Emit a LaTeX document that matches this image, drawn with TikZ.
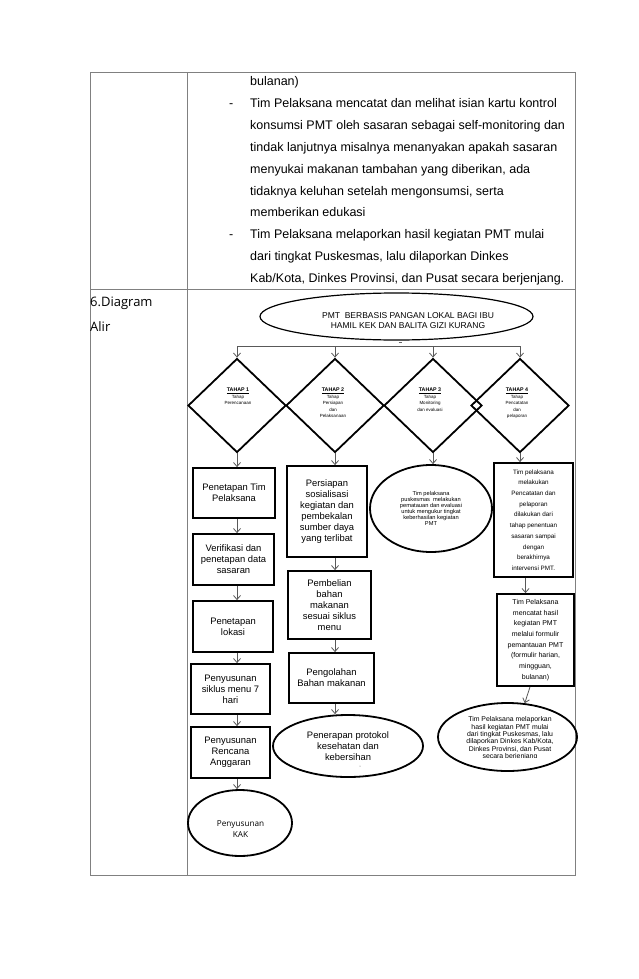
\documentclass[tikz,border=0pt]{standalone}
\usepackage{fontspec}
\setmainfont{Liberation Sans}
\newfontfamily\osans{Open Sans}
\usetikzlibrary{shapes.geometric,arrows.meta}
\begin{document}
\begin{tikzpicture}[x=1pt,y=-1pt,
  tline/.style={draw=black!50, line width=1pt},
  body/.style={font=\fontsize{12.5}{21.9}\selectfont, anchor=base west, inner sep=0pt},
  box/.style={draw=black, line width=1.8pt, rectangle, inner sep=0pt, align=center, font=\fontsize{9.4}{11}\selectfont},
  oval/.style={draw=black, line width=1.8pt, ellipse, inner sep=0pt, align=center},
  dia/.style={draw=black, line width=1.8pt, diamond, inner sep=0pt, aspect=1},
  arr/.style={draw=black!65, line width=0.8pt, -{Straight Barb[length=4pt,width=7pt]}},
  conn/.style={draw=black!65, line width=0.8pt},
  lbl/.style={inner sep=0pt, align=center},
  dtxt/.style={lbl, anchor=north, font=\fontsize{4.5}{6.5}\selectfont},
]
\useasboundingbox (0,0) rectangle (638,979);
\fill[white] (0,0) rectangle (638,979);

% table
\draw[tline] (90,73) rectangle (575,875);
\draw[tline] (90,289) -- (575,289);
\draw[tline] (187,73) -- (187,875);

% top-right text
\node[body] (t1) at (250,85.5) {bulanan)};
\node[body] (s1) at (229,107.4) {-};
\node[body] (t2) at (250,107.4) {Tim Pelaksana mencatat dan melihat isian kartu kontrol};
\node[body] (t3) at (250,129.3) {konsumsi PMT oleh sasaran sebagai self-monitoring dan};
\node[body] (t4) at (250,151.2) {tindak lanjutnya misalnya menanyakan apakah sasaran};
\node[body] (t5) at (250,173.1) {menyukai makanan tambahan yang diberikan, ada};
\node[body] (t6) at (250,195.0) {tidaknya keluhan setelah mengonsumsi, serta};
\node[body] (t7) at (250,216.9) {memberikan edukasi};
\node[body] (s2) at (229,238.8) {-};
\node[body] (t8) at (250,238.8) {Tim Pelaksana melaporkan hasil kegiatan PMT mulai};
\node[body] (t9) at (250,260.7) {dari tingkat Puskesmas, lalu dilaporkan Dinkes};
\node[body] (t10) at (250,282.6) {Kab/Kota, Dinkes Provinsi, dan Pusat secara berjenjang.};

% left column
\node[font=\osans\fontsize{13}{13}\selectfont, anchor=base west, inner sep=0pt] (lc1) at (90,306) {6.Diagram};
\node[font=\osans\fontsize{13}{13}\selectfont, anchor=base west, inner sep=0pt] (lc2) at (90,331) {Alir};

% title
\node[oval, line width=1.2pt, minimum width=273pt, minimum height=47pt] (title) at (396.5,316.5) {};
\node[lbl, font=\fontsize{8.5}{9.5}\selectfont] (titlet) at (408,320.5) {PMT\ \ BERBASIS PANGAN LOKAL BAGI IBU\\HAMIL KEK DAN BALITA GIZI KURANG};
\draw[black!60, line width=0.7pt] (398.5,342.8) -- (401.5,342.8);

% diamonds
\node[dia, minimum width=98pt, minimum height=94pt] (d1) at (237,405.5) {};
\node[dia, minimum width=98pt, minimum height=94pt] (d2) at (335,405.5) {};
\node[dia, minimum width=98pt, minimum height=94pt] (d3) at (433,405.5) {};
\node[dia, minimum width=98pt, minimum height=94pt] (d4) at (520,405.5) {};
\node[dtxt] (d1t) at (238,388) {{\fontsize{5.3}{6.5}\selectfont\textbf{\underline{TAHAP 1}}}\\Tahap\\Perencanaan};
\node[dtxt] (d2t) at (333,388) {{\fontsize{5.3}{6.5}\selectfont\textbf{\underline{TAHAP 2}}}\\Tahap\\Persiapan\\dan\\Pelaksanaan};
\node[dtxt] (d3t) at (430,388) {{\fontsize{5.3}{6.5}\selectfont\textbf{\underline{TAHAP 3}}}\\Tahap\\Monitoring\\dan evaluasi};
\node[dtxt] (d4t) at (517,388) {{\fontsize{5.3}{6.5}\selectfont\textbf{\underline{TAHAP 4}}}\\Tahap\\Pencatatan\\dan\\pelaporan};

% bus
\coordinate (bus) at (0,346);
\draw[conn] (d1.north |- bus) -- (d4.north |- bus);
\draw[arr] (d1.north |- bus) -- (d1.north);
\draw[arr] (d2.north |- bus) -- (d2.north);
\draw[arr] (d3.north |- bus) -- (d3.north);
\draw[arr] (d4.north |- bus) -- (d4.north);

% column 1
\node[box, minimum width=82pt, minimum height=50pt] (b1) at (234,493) {Penetapan Tim\\Pelaksana};
\node[box, minimum width=81pt, minimum height=51pt] (b2) at (233.5,559.5) {Verifikasi dan\\penetapan data\\sasaran};
\node[box, minimum width=80pt, minimum height=51pt] (b3) at (233,626.5) {Penetapan\\lokasi};
\node[box, minimum width=79pt, minimum height=50pt] (b4) at (230.5,689) {Penyusunan\\siklus menu 7\\hari};
\node[box, minimum width=79pt, minimum height=51pt] (b5) at (230.5,752.5) {Penyusunan\\Rencana\\Anggaran};
\node[oval, minimum width=104pt, minimum height=66pt] (b6) at (240,823) {};
\node[lbl, font=\osans\fontsize{8.2}{11}\selectfont] (b6t) at (240.5,829.5) {Penyusunan\\KAK};
\draw[arr] (d1.south) -- (d1.south |- b1.north);
\draw[arr] (b1.south -| d1.south) -- (b2.north -| d1.south);
\draw[arr] (b2.south -| d1.south) -- (b3.north -| d1.south);
\draw[arr] (b3.south -| d1.south) -- (b4.north -| d1.south);
\draw[arr] (b4.south -| d1.south) -- (b5.north -| d1.south);
\draw[arr] (b5.south -| d1.south) -- (b6.north -| d1.south);

% column 2
\node[box, minimum width=80pt, minimum height=91pt] (p1) at (327,511.5) {Persiapan\\sosialisasi\\kegiatan dan\\pembekalan\\sumber daya\\yang terlibat};
\node[box, minimum width=83pt, minimum height=68pt] (p2) at (329.5,605) {Pembelian\\bahan\\makanan\\sesuai siklus\\menu};
\node[box, minimum width=85pt, minimum height=50pt] (p3) at (331.5,678) {Pengolahan\\Bahan makanan};
\node[oval, minimum width=150pt, minimum height=62pt, font=\fontsize{9.4}{11}\selectfont] (p4) at (348,746) {Penerapan protokol\\kesehatan dan\\kebersihan};
\fill[black!60] (360,766) circle (0.5pt);
\draw[arr] (d2.south) -- (d2.south |- p1.north);
\draw[arr] (p1.south -| d2.south) -- (p2.north -| d2.south);
\draw[arr] (p2.south -| d2.south) -- (p3.north -| d2.south);
\draw[arr] (p3.south -| d2.south) -- (p4.north -| d2.south);

% column 3
\node[oval, minimum width=122pt, minimum height=87pt, font=\fontsize{5.7}{6}\selectfont] (m1) at (431,508.5) {Tim pelaksana\\puskesmas\ \ melakukan\\pematauan dan evaluasi\\untuk mengukur tingkat\\keberhasilan kegiatan\\PMT};
\draw[arr] (d3.south) -- (d3.south |- m1.north);

% column 4
\node[box, minimum width=79pt, minimum height=114pt, font=\fontsize{6.3}{10.7}\selectfont] (r1) at (533.5,520) {Tim pelaksana\\melakukan\\Pencatatan dan\\pelaporan\\dilakukan dari\\tahap penentuan\\sasaran sampai\\dengan\\berakhirnya\\intervensi PMT.};
\node[box, minimum width=77pt, minimum height=92pt, font=\fontsize{7}{10.7}\selectfont] (r2) at (535.5,640) {Tim Pelaksana\\mencatat hasil\\kegiatan PMT\\melalui formulir\\pemantauan PMT\\(formulir harian,\\mingguan,\\bulanan)};
\node[oval, minimum width=139pt, minimum height=68pt] (r3) at (507.5,737) {};
\begin{scope}
\clip (440,700) rectangle (576,757);
\node[lbl, font=\fontsize{6.9}{7.4}\selectfont] (r3t) at (510,738.5) {Tim Pelaksana melaporkan\\hasil kegiatan PMT mulai\\dari tingkat Puskesmas, lalu\\dilaporkan Dinkes Kab/Kota,\\Dinkes Provinsi, dan Pusat\\secara berjenjang};
\end{scope}
\draw[arr] (d4.south) -- (d4.south |- r1.north);
\draw[arr] ([xshift=-8pt]r1.south) -- ([xshift=-8pt]r1.south |- r2.north);
\draw[arr] ([xshift=-5.5pt]r2.south) -- (r3.63);
\end{tikzpicture}
\end{document}
